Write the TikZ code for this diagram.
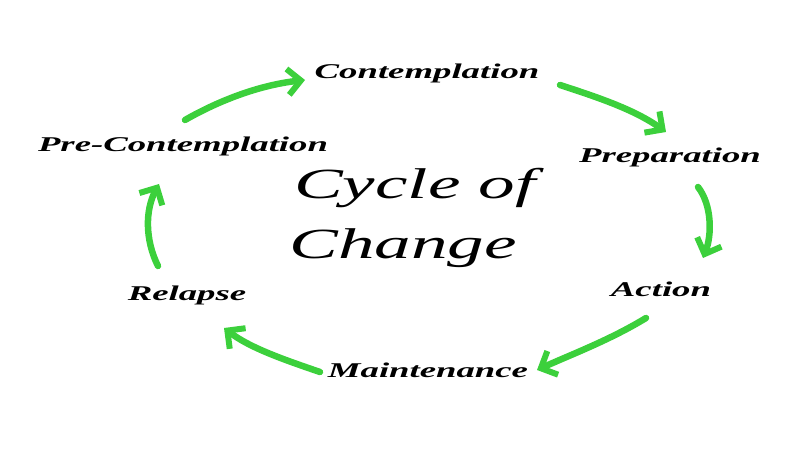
\documentclass[tikz,border=0pt]{standalone}
\usepackage{fontspec}
\setmainfont{Liberation Serif}
\newfontfamily\lblfont[FakeStretch=1.75]{Liberation Serif}
\newfontfamily\ttlfont[FakeStretch=1.7]{Liberation Serif}
\usetikzlibrary{arrows.meta}
\definecolor{grn}{RGB}{60,208,60}
\tikzset{
 lbl/.style={font=\lblfont\bfseries\itshape\fontsize{21}{21}\selectfont, inner sep=0},
 ttl/.style={font=\ttlfont\itshape\fontsize{43}{43}\selectfont, inner sep=0},
 arr/.style={draw=grn, line width=6.5pt, line cap=round, -{Straight Barb[length=13pt,width=26pt,line width=6pt]}}
}
\begin{document}
\begin{tikzpicture}[x=1pt,y=-1pt]
\useasboundingbox (0,0) rectangle (800,457);
\node[lbl] (con) at (427,73) {Contemplation};
\node[lbl] (pre) at (183,146) {Pre-Contemplation};
\node[lbl] (prep) at (670,157) {Preparation};
\node[lbl] (act) at (661,289) {Action};
\node[lbl] (rel) at (187,295) {Relapse};
\node[lbl] (mai) at (428,370) {Maintenance};
\node[ttl] (t1) at (415,188) {Cycle of};
\node[ttl] (t2) at (403,248) {Change};
\coordinate (a1s) at (185,120); \coordinate (a1e) at (305,80);
\coordinate (a2s) at (560,85); \coordinate (a2e) at (666,132);
\coordinate (a3s) at (698,187); \coordinate (a3e) at (703,258);
\coordinate (a4s) at (646,318); \coordinate (a4e) at (537,370);
\coordinate (a5s) at (320,372); \coordinate (a5e) at (224,328);
\coordinate (a6s) at (158,266); \coordinate (a6e) at (159,184);
\draw[arr] (a1s) .. controls (220,100) and (260,85) .. (a1e);
\draw[arr] (a2s) .. controls (600,98) and (635,110) .. (a2e);
\draw[arr] (a3s) .. controls (712,205) and (712,235) .. (a3e);
\draw[arr] (a4s) .. controls (610,340) and (570,355) .. (a4e);
\draw[arr] (a5s) .. controls (285,360) and (250,348) .. (a5e);
\draw[arr] (a6s) .. controls (145,240) and (145,210) .. (a6e);
\end{tikzpicture}
\end{document}
